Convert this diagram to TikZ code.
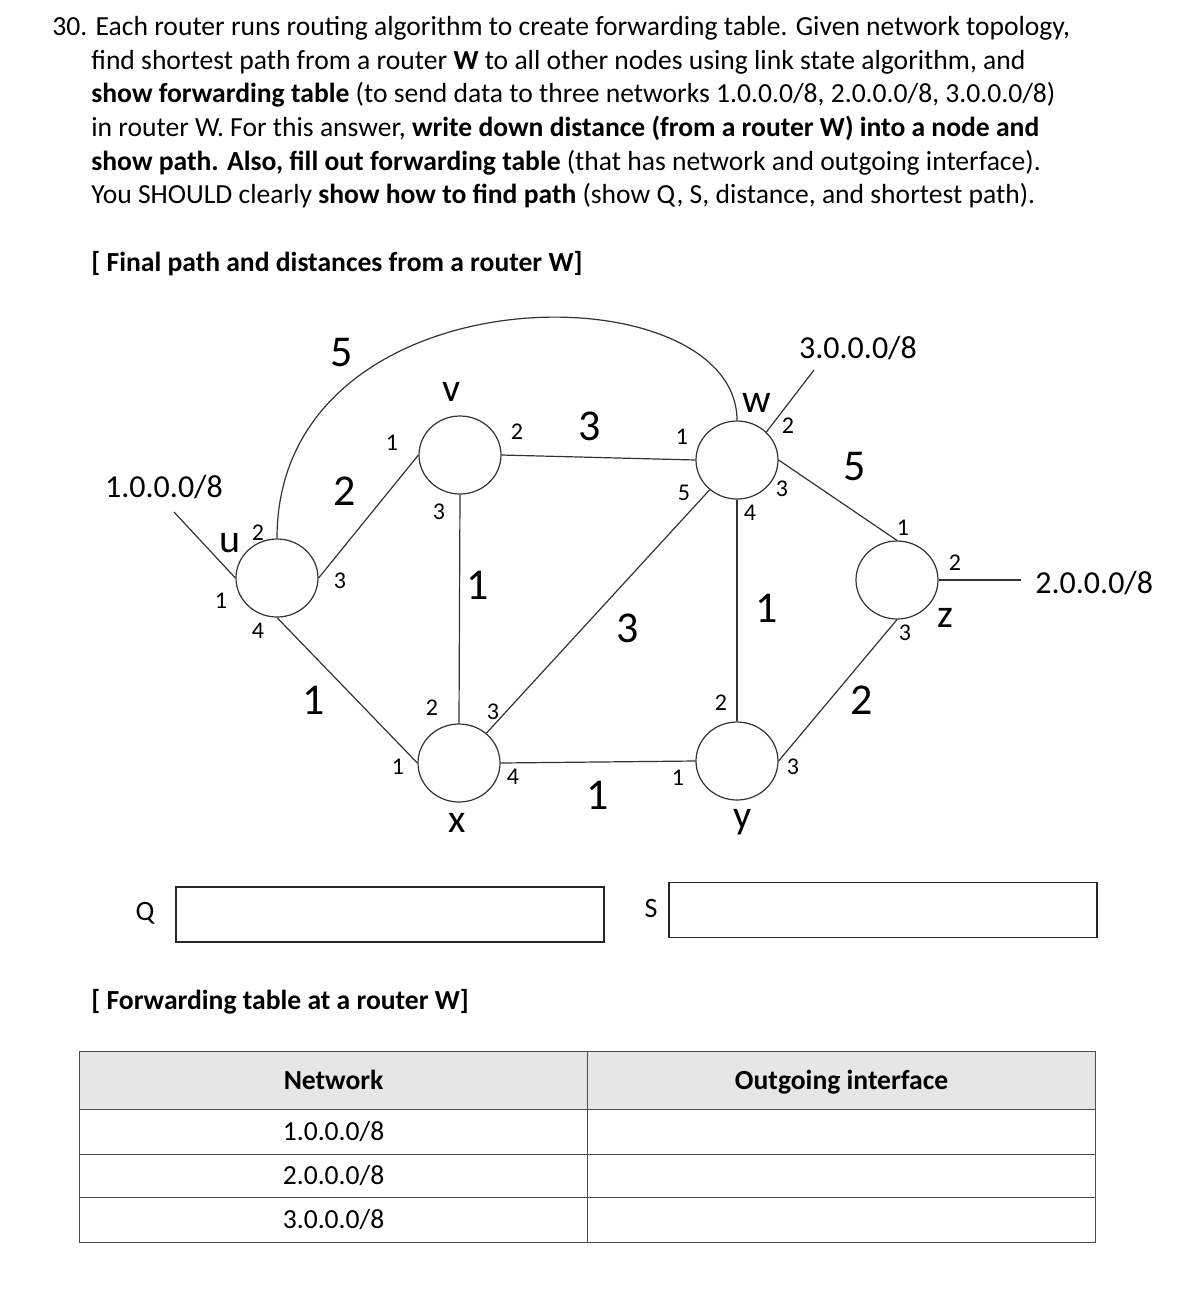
\documentclass[tikz,border=0pt]{standalone}
\usepackage{fontspec}
\setmainfont{Carlito}
\usepackage{xcolor}
\usetikzlibrary{shapes.geometric}
\definecolor{linegray}{HTML}{333333}
\definecolor{headgray}{HTML}{E7E6E6}

\begin{document}
\begin{tikzpicture}[x=0.5pt, y=-0.5pt,
  router/.style={draw=linegray, line width=0.6pt, ellipse, minimum width=41pt,
    minimum height=39pt, inner sep=0pt},
  link/.style={draw=linegray, line width=0.6pt},
  port/.style={font=\fontsize{12}{14}\selectfont, inner sep=0pt},
  cost/.style={font=\fontsize{22}{26}\selectfont, inner sep=0pt},
  rname/.style={font=\fontsize{20}{24}\selectfont, inner sep=0pt},
  netlbl/.style={font=\fontsize{16}{19}\selectfont, inner sep=0pt},
  txt/.style={anchor=base west, inner sep=0pt, font=\fontsize{13.8}{16}\selectfont},
  ansbox/.style={draw=black!85, line width=0.9pt, minimum width=214pt, minimum height=27.5pt},
  cell/.style={draw=black!70, line width=0.6pt, anchor=north west, minimum width=254pt,
    inner sep=0pt, text height=8.7pt, text depth=0pt, font=\fontsize{13.8}{16}\selectfont}
]
  \useasboundingbox (0,0) rectangle (1196,1298);

  % question text
  \node[txt] (q1) at (52,35) {30. Each router runs routing algorithm to create forwarding table. Given network topology,};
  \node[txt] (q2) at (91,69) {find shortest path from a router \textbf{W} to all other nodes using link state algorithm, and};
  \node[txt] (q3) at (91,102) {\textbf{show forwarding table} (to send data to three networks 1.0.0.0/8, 2.0.0.0/8, 3.0.0.0/8)};
  \node[txt] (q4) at (91,136) {in router W. For this answer, \textbf{write down distance (from a router W) into a node and}};
  \node[txt] (q5) at (91,170) {\textbf{show path. Also, fill out forwarding table} (that has network and outgoing interface).};
  \node[txt] (q6) at (91,203) {You SHOULD clearly \textbf{show how to find path} (show Q, S, distance, and shortest path).};
  \node[txt] (head1) at (91,271) {\textbf{[ Final path and distances from a router W]}};

  % routers
  \node[router] (u) at (277,578) {};
  \node[router] (v) at (460,455) {};
  \node[router] (w) at (737,460) {};
  \node[router] (z) at (897,580) {};
  \node[router] (x) at (459,763) {};
  \node[router] (y) at (737,761) {};

  \node[rname] (lu) at (230,543) {u};
  \node[rname] (lv) at (452,392) {v};
  \node[rname] (lw) at (757,403) {w};
  \node[rname] (lz) at (945,618) {z};
  \node[rname] (lx) at (457,823) {x};
  \node[rname] (ly) at (743,822) {y};

  % attached networks
  \coordinate (net1) at (174,512);
  \coordinate (net3) at (814,370);
  \coordinate (net2) at (1021,580);
  \node[netlbl] (n1) at (164,487) {1.0.0.0/8};
  \node[netlbl] (n3) at (858,348) {3.0.0.0/8};
  \node[netlbl, anchor=west] (n2) at (1035,583) {2.0.0.0/8};

  % links
  \draw[link] (net1) -- (u.west);
  \draw[link] (w.north east) -- (net3);
  \draw[link] (z.east) -- (net2);
  \draw[link] (u.north) .. controls (277,266) and (737,268) .. (w.north);
  \draw[link] (u.east) -- (v.west);
  \draw[link] (u.south) -- (x.west);
  \draw[link] (v.east) -- (w.west);
  \draw[link] (v.south) -- (x.north);
  \draw[link] (x) -- (w);
  \draw[link] (x.east) -- (y.west);
  \draw[link] (w.south) -- (y.north);
  \draw[link] (w.east) -- (z.north);
  \draw[link] (y.east) -- (z.south);

  % link costs
  \node[cost] (cuw) at (342,353) {5};
  \node[cost] (cuv) at (345,491) {2};
  \node[cost] (cux) at (314,700) {1};
  \node[cost] (cvx) at (478,585) {1};
  \node[cost] (cvw) at (590,426) {3};
  \node[cost] (cxw) at (628,628) {3};
  \node[cost] (cxy) at (598,795) {1};
  \node[cost] (cwy) at (767,608) {1};
  \node[cost] (cwz) at (855,467) {5};
  \node[cost] (cyz) at (862,700) {2};

  % interface numbers
  \node[port] (pu1) at (221,601) {1};
  \node[port] (pu2) at (258,533) {2};
  \node[port] (pu3) at (340,581) {3};
  \node[port] (pu4) at (258,631) {4};
  \node[port] (pv1) at (392,443) {1};
  \node[port] (pv2) at (517,432) {2};
  \node[port] (pv3) at (439,512) {3};
  \node[port] (pw1) at (682,437) {1};
  \node[port] (pw2) at (788,426) {2};
  \node[port] (pw3) at (782,489) {3};
  \node[port] (pw4) at (750,513) {4};
  \node[port] (pw5) at (684,493) {5};
  \node[port] (pz1) at (903,528) {1};
  \node[port] (pz2) at (955,563) {2};
  \node[port] (pz3) at (905,633) {3};
  \node[port] (px1) at (398,767) {1};
  \node[port] (px2) at (432,708) {2};
  \node[port] (px3) at (493,712) {3};
  \node[port] (px4) at (513,777) {4};
  \node[port] (py1) at (678,778) {1};
  \node[port] (py2) at (721,703) {2};
  \node[port] (py3) at (793,767) {3};

  % answer boxes
  \node[font=\fontsize{14}{16}\selectfont, inner sep=0pt] (lq) at (145,913) {Q};
  \node[ansbox] (qbox) at (390,914.5) {};
  \node[font=\fontsize{14}{16}\selectfont, inner sep=0pt] (ls) at (651,908) {S};
  \node[ansbox] (sbox) at (883,910) {};

  % forwarding table
  \node[txt] (head2) at (91,1009) {\textbf{[ Forwarding table at a router W]}};
  \node[cell, fill=headgray, minimum height=29pt] (h1) at (79,1051) {\textbf{Network}};
  \node[cell, fill=headgray, minimum height=29pt] (h2) at (587,1051) {\textbf{Outgoing interface}};
  \node[cell, minimum height=22.5pt] (r1a) at (79,1109) {1.0.0.0/8};
  \node[cell, minimum height=22.5pt] (r1b) at (587,1109) {};
  \node[cell, minimum height=21.5pt] (r2a) at (79,1154) {2.0.0.0/8};
  \node[cell, minimum height=21.5pt] (r2b) at (587,1154) {};
  \node[cell, minimum height=22.5pt] (r3a) at (79,1197) {3.0.0.0/8};
  \node[cell, minimum height=22.5pt] (r3b) at (587,1197) {};
\end{tikzpicture}
\end{document}
